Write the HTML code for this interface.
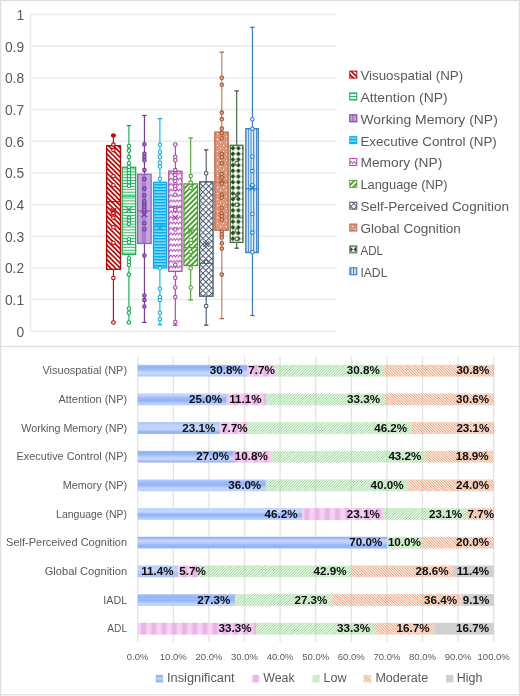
<!DOCTYPE html><html><head><meta charset="utf-8"><style>html,body{margin:0;padding:0;background:#fff;}svg{display:block;}text{font-family:'Liberation Sans', Arial, sans-serif;}</style></head><body>
<svg width="520" height="696" viewBox="0 0 520 696">
<defs>
<pattern id="pRed" patternUnits="userSpaceOnUse" width="3.4" height="3.4" patternTransform="rotate(-45)"><rect width="3.4" height="3.4" fill="#fff"/><rect width="1.65" height="3.4" fill="#C00000"/></pattern>
<pattern id="pAtt" patternUnits="userSpaceOnUse" width="6" height="2.9" y="0.3"><rect width="6" height="2.9" fill="#fff"/><rect width="6" height="1.05" fill="#2DB862"/></pattern>
<pattern id="pExe" patternUnits="userSpaceOnUse" width="6" height="3" y="0.6"><rect width="6" height="3" fill="#fff"/><rect width="6" height="2.2" fill="#00B0F0"/></pattern>
<pattern id="pMem" patternUnits="userSpaceOnUse" width="3" height="5.5" y="1"><rect width="3" height="5.5" fill="#fff"/><polyline points="0,0.8 1.5,3.0 3,0.8" fill="none" stroke="#B346B0" stroke-width="0.95"/></pattern>
<pattern id="pLang" patternUnits="userSpaceOnUse" width="3.7" height="3.7" patternTransform="rotate(45)"><rect width="3.7" height="3.7" fill="#fff"/><rect width="1.8" height="3.7" fill="#3E9E26"/></pattern>
<pattern id="pSelf" patternUnits="userSpaceOnUse" width="4.1" height="4.1" patternTransform="rotate(45)"><rect width="4.1" height="4.1" fill="#fff"/><rect width="0.95" height="4.1" fill="#4A5A70"/><rect width="4.1" height="0.95" fill="#4A5A70"/></pattern>
<pattern id="pGlob" patternUnits="userSpaceOnUse" width="6" height="6" x="0" y="0"><rect width="6" height="6" fill="#DD9678"/><rect x="1" y="1" width="1" height="1" fill="#fff"/><rect x="4" y="4" width="1" height="1" fill="#fff"/></pattern>
<pattern id="pADL" patternUnits="userSpaceOnUse" width="5.5" height="5.65" x="230.15" y="145.4"><rect width="5.5" height="5.65" fill="#fff"/><polygon points="2.75,0.35 5.2,2.82 2.75,5.3 0.3,2.82" fill="#1E5016"/></pattern>
<pattern id="pIADL" patternUnits="userSpaceOnUse" width="2.7" height="4" x="245.1"><rect width="2.7" height="4" fill="#F2F7FD"/><rect width="1.1" height="4" fill="#2C7AD6"/></pattern>
<pattern id="pLow" patternUnits="userSpaceOnUse" width="1.9" height="1.9" patternTransform="rotate(45)"><rect width="0.85" height="1.9" fill="#8ED68A"/></pattern>
<pattern id="pMod" patternUnits="userSpaceOnUse" width="1.9" height="1.9" patternTransform="rotate(-45)"><rect width="0.9" height="1.9" fill="#F09A70"/></pattern>
<linearGradient id="gWk" x1="0" x2="1" y1="0" y2="0"><stop offset="0" stop-color="#F3D0F0"/><stop offset="0.2" stop-color="#EAB2E5"/><stop offset="0.45" stop-color="#EAB2E5"/><stop offset="0.7" stop-color="#F4D4F1"/><stop offset="1" stop-color="#F3D0F0"/></linearGradient>
<pattern id="pWeak" patternUnits="userSpaceOnUse" width="10.2" height="4" x="303.5"><rect width="10.2" height="4" fill="url(#gWk)"/></pattern>
<linearGradient id="gPur" x1="0" x2="1" y1="0" y2="0"><stop offset="0" stop-color="#C7A6E0"/><stop offset="0.28" stop-color="#C2A0DD"/><stop offset="0.3" stop-color="#A880CC"/><stop offset="0.62" stop-color="#A880CC"/><stop offset="0.64" stop-color="#C4A3DF"/><stop offset="1" stop-color="#C7A6E0"/></linearGradient>
<linearGradient id="gI0" x1="0" x2="0" y1="0" y2="1"><stop offset="0" stop-color="#A4C0FA"/><stop offset="0.2" stop-color="#8FB2F9"/><stop offset="0.4" stop-color="#9DBBFA"/><stop offset="0.6" stop-color="#C3D5FC"/><stop offset="0.75" stop-color="#C6D7FC"/><stop offset="0.9" stop-color="#B3CAFA"/><stop offset="1" stop-color="#BCD0FB"/></linearGradient>
<linearGradient id="gI1" x1="0" x2="0" y1="0" y2="1"><stop offset="0" stop-color="#B9CEFB"/><stop offset="0.15" stop-color="#C3D5FC"/><stop offset="0.35" stop-color="#9EBCFA"/><stop offset="0.6" stop-color="#8FB2F9"/><stop offset="0.8" stop-color="#B5CBFB"/><stop offset="1" stop-color="#BFD2FB"/></linearGradient>
<linearGradient id="gI2" x1="0" x2="0" y1="0" y2="1"><stop offset="0" stop-color="#A8C3FA"/><stop offset="0.15" stop-color="#B0C8FA"/><stop offset="0.3" stop-color="#C3D5FC"/><stop offset="0.5" stop-color="#C0D3FB"/><stop offset="0.6" stop-color="#C5D6FC"/><stop offset="0.8" stop-color="#96B6F9"/><stop offset="0.95" stop-color="#8DB0F8"/><stop offset="1" stop-color="#A8C3FA"/></linearGradient>
<linearGradient id="gI3" x1="0" x2="0" y1="0" y2="1"><stop offset="0" stop-color="#9DBBFA"/><stop offset="0.15" stop-color="#8FB2F9"/><stop offset="0.3" stop-color="#96B6F9"/><stop offset="0.45" stop-color="#B5CBFB"/><stop offset="0.65" stop-color="#C8D8FC"/><stop offset="0.8" stop-color="#B9CEFB"/><stop offset="0.93" stop-color="#8FB2F9"/><stop offset="1" stop-color="#A8C3FA"/></linearGradient>
<linearGradient id="gI4" x1="0" x2="0" y1="0" y2="1"><stop offset="0" stop-color="#BCD0FB"/><stop offset="0.2" stop-color="#9EBCFA"/><stop offset="0.45" stop-color="#8FB2F9"/><stop offset="0.55" stop-color="#A2BFFA"/><stop offset="0.75" stop-color="#C6D7FC"/><stop offset="0.9" stop-color="#BBCFFB"/><stop offset="1" stop-color="#C0D3FB"/></linearGradient>
<linearGradient id="gI5" x1="0" x2="0" y1="0" y2="1"><stop offset="0" stop-color="#BCD0FB"/><stop offset="0.3" stop-color="#C8D8FC"/><stop offset="0.55" stop-color="#8FB2F9"/><stop offset="0.7" stop-color="#9CBAFA"/><stop offset="0.9" stop-color="#BACFFB"/><stop offset="1" stop-color="#BCD0FB"/></linearGradient>
<linearGradient id="gI6" x1="0" x2="0" y1="0" y2="1"><stop offset="0" stop-color="#8FB2F9"/><stop offset="0.1" stop-color="#8FB2F9"/><stop offset="0.2" stop-color="#B0C8FA"/><stop offset="0.35" stop-color="#C8D8FC"/><stop offset="0.55" stop-color="#B2C9FA"/><stop offset="0.7" stop-color="#98B8F9"/><stop offset="0.85" stop-color="#8FB2F9"/><stop offset="1" stop-color="#A5C1FA"/></linearGradient>
<linearGradient id="gI7" x1="0" x2="0" y1="0" y2="1"><stop offset="0" stop-color="#B5CCFB"/><stop offset="0.4" stop-color="#C6D7FC"/><stop offset="0.7" stop-color="#A9C4FA"/><stop offset="1" stop-color="#B0C8FA"/></linearGradient>
<linearGradient id="gI8" x1="0" x2="0" y1="0" y2="1"><stop offset="0" stop-color="#B3CAFA"/><stop offset="0.25" stop-color="#8FB2F9"/><stop offset="0.4" stop-color="#A2BEFA"/><stop offset="0.55" stop-color="#95B6F9"/><stop offset="0.85" stop-color="#C5D6FC"/><stop offset="1" stop-color="#B4CBFA"/></linearGradient>
<linearGradient id="gI9" x1="0" x2="0" y1="0" y2="1"><stop offset="0" stop-color="#8FB2F9"/><stop offset="0.3" stop-color="#A0BDFA"/><stop offset="0.5" stop-color="#C5D6FC"/><stop offset="0.7" stop-color="#A0BDFA"/><stop offset="1" stop-color="#8FB2F9"/></linearGradient>
</defs>
<rect width="520" height="696" fill="#fff"/>
<line x1="30.5" y1="331.25" x2="336.7" y2="331.25" stroke="#EAEAEA" stroke-width="1.5"/>
<line x1="30.5" y1="299.57" x2="336.7" y2="299.57" stroke="#EAEAEA" stroke-width="1.5"/>
<line x1="30.5" y1="267.90" x2="336.7" y2="267.90" stroke="#EAEAEA" stroke-width="1.5"/>
<line x1="30.5" y1="236.23" x2="336.7" y2="236.23" stroke="#EAEAEA" stroke-width="1.5"/>
<line x1="30.5" y1="204.55" x2="336.7" y2="204.55" stroke="#EAEAEA" stroke-width="1.5"/>
<line x1="30.5" y1="172.88" x2="336.7" y2="172.88" stroke="#EAEAEA" stroke-width="1.5"/>
<line x1="30.5" y1="141.20" x2="336.7" y2="141.20" stroke="#EAEAEA" stroke-width="1.5"/>
<line x1="30.5" y1="109.53" x2="336.7" y2="109.53" stroke="#EAEAEA" stroke-width="1.5"/>
<line x1="30.5" y1="77.85" x2="336.7" y2="77.85" stroke="#EAEAEA" stroke-width="1.5"/>
<line x1="30.5" y1="46.18" x2="336.7" y2="46.18" stroke="#EAEAEA" stroke-width="1.5"/>
<line x1="30.5" y1="14.50" x2="336.7" y2="14.50" stroke="#EAEAEA" stroke-width="1.5"/>
<line x1="30.6" y1="14.3" x2="30.6" y2="331.3" stroke="#EAEAEA" stroke-width="1.3"/>
<text x="24.1" y="336.65" font-size="13.8" fill="#595959" text-anchor="end">0</text>
<text x="24.1" y="304.97" font-size="13.8" fill="#595959" text-anchor="end">0.1</text>
<text x="24.1" y="273.30" font-size="13.8" fill="#595959" text-anchor="end">0.2</text>
<text x="24.1" y="241.63" font-size="13.8" fill="#595959" text-anchor="end">0.3</text>
<text x="24.1" y="209.95" font-size="13.8" fill="#595959" text-anchor="end">0.4</text>
<text x="24.1" y="178.28" font-size="13.8" fill="#595959" text-anchor="end">0.5</text>
<text x="24.1" y="146.60" font-size="13.8" fill="#595959" text-anchor="end">0.6</text>
<text x="24.1" y="114.93" font-size="13.8" fill="#595959" text-anchor="end">0.7</text>
<text x="24.1" y="83.25" font-size="13.8" fill="#595959" text-anchor="end">0.8</text>
<text x="24.1" y="51.58" font-size="13.8" fill="#595959" text-anchor="end">0.9</text>
<text x="24.1" y="19.90" font-size="13.8" fill="#595959" text-anchor="end">1</text>
<line x1="113.40" y1="135.30" x2="113.40" y2="145.70" stroke="#C00000" stroke-width="1.1"/>
<line x1="113.40" y1="269.30" x2="113.40" y2="322.40" stroke="#C00000" stroke-width="1.1"/>
<line x1="111.20" y1="135.30" x2="115.60" y2="135.30" stroke="#C00000" stroke-width="1.3"/>
<line x1="111.20" y1="322.40" x2="115.60" y2="322.40" stroke="#C00000" stroke-width="1.3"/>
<rect x="106.65" y="145.70" width="13.80" height="123.60" fill="url(#pRed)" stroke="#C00000" stroke-width="1.30"/>
<line x1="106.60" y1="201.70" x2="120.50" y2="201.70" stroke="#C00000" stroke-width="1.1"/>
<circle cx="113.40" cy="135.50" r="1.75" fill="#fff" stroke="#C00000" stroke-width="1.05"/>
<circle cx="113.40" cy="144.60" r="1.75" fill="#fff" stroke="#C00000" stroke-width="1.05"/>
<circle cx="113.40" cy="150.10" r="1.75" fill="#fff" stroke="#C00000" stroke-width="1.05"/>
<circle cx="113.40" cy="176.20" r="1.75" fill="#fff" stroke="#C00000" stroke-width="1.05"/>
<circle cx="113.40" cy="185.30" r="1.75" fill="#fff" stroke="#C00000" stroke-width="1.05"/>
<circle cx="113.40" cy="213.10" r="1.75" fill="#fff" stroke="#C00000" stroke-width="1.05"/>
<circle cx="113.40" cy="217.60" r="1.75" fill="#fff" stroke="#C00000" stroke-width="1.05"/>
<circle cx="113.40" cy="227.20" r="1.75" fill="#fff" stroke="#C00000" stroke-width="1.05"/>
<circle cx="113.40" cy="242.70" r="1.75" fill="#fff" stroke="#C00000" stroke-width="1.05"/>
<circle cx="113.40" cy="278.00" r="1.75" fill="#fff" stroke="#C00000" stroke-width="1.05"/>
<circle cx="113.40" cy="322.40" r="1.75" fill="#fff" stroke="#C00000" stroke-width="1.05"/>
<ellipse cx="113.40" cy="135.50" rx="2.4" ry="1.6" fill="#C00000"/>
<path d="M110.60 208.00L116.20 213.60M110.60 213.60L116.20 208.00" stroke="#C00000" stroke-width="1.1" fill="none"/>
<line x1="128.90" y1="125.60" x2="128.90" y2="167.30" stroke="#00B050" stroke-width="1.1"/>
<line x1="128.90" y1="254.50" x2="128.90" y2="322.40" stroke="#00B050" stroke-width="1.1"/>
<line x1="126.70" y1="125.60" x2="131.10" y2="125.60" stroke="#00B050" stroke-width="1.3"/>
<line x1="126.70" y1="322.40" x2="131.10" y2="322.40" stroke="#00B050" stroke-width="1.3"/>
<rect x="122.25" y="167.30" width="13.40" height="87.20" fill="url(#pAtt)" stroke="#1DB258" stroke-width="1.30"/>
<line x1="122.20" y1="196.20" x2="135.70" y2="196.20" stroke="#1DB258" stroke-width="1.1"/>
<circle cx="128.90" cy="145.90" r="1.75" fill="#fff" stroke="#00B050" stroke-width="1.05"/>
<circle cx="128.90" cy="150.60" r="1.75" fill="#fff" stroke="#00B050" stroke-width="1.05"/>
<circle cx="128.90" cy="157.10" r="1.75" fill="#fff" stroke="#00B050" stroke-width="1.05"/>
<circle cx="128.90" cy="163.20" r="1.75" fill="#fff" stroke="#00B050" stroke-width="1.05"/>
<circle cx="128.90" cy="167.00" r="1.75" fill="#fff" stroke="#00B050" stroke-width="1.05"/>
<circle cx="128.90" cy="170.20" r="1.75" fill="#fff" stroke="#00B050" stroke-width="1.05"/>
<circle cx="128.90" cy="173.20" r="1.75" fill="#fff" stroke="#00B050" stroke-width="1.05"/>
<circle cx="128.90" cy="176.20" r="1.75" fill="#fff" stroke="#00B050" stroke-width="1.05"/>
<circle cx="128.90" cy="179.30" r="1.75" fill="#fff" stroke="#00B050" stroke-width="1.05"/>
<circle cx="128.90" cy="182.30" r="1.75" fill="#fff" stroke="#00B050" stroke-width="1.05"/>
<circle cx="128.90" cy="185.80" r="1.75" fill="#fff" stroke="#00B050" stroke-width="1.05"/>
<circle cx="128.90" cy="217.60" r="1.75" fill="#fff" stroke="#00B050" stroke-width="1.05"/>
<circle cx="128.90" cy="220.60" r="1.75" fill="#fff" stroke="#00B050" stroke-width="1.05"/>
<circle cx="128.90" cy="224.10" r="1.75" fill="#fff" stroke="#00B050" stroke-width="1.05"/>
<circle cx="128.90" cy="239.20" r="1.75" fill="#fff" stroke="#00B050" stroke-width="1.05"/>
<circle cx="128.90" cy="242.20" r="1.75" fill="#fff" stroke="#00B050" stroke-width="1.05"/>
<circle cx="128.90" cy="258.40" r="1.75" fill="#fff" stroke="#00B050" stroke-width="1.05"/>
<circle cx="128.90" cy="261.80" r="1.75" fill="#fff" stroke="#00B050" stroke-width="1.05"/>
<circle cx="128.90" cy="264.90" r="1.75" fill="#fff" stroke="#00B050" stroke-width="1.05"/>
<circle cx="128.90" cy="274.60" r="1.75" fill="#fff" stroke="#00B050" stroke-width="1.05"/>
<circle cx="128.90" cy="308.50" r="1.75" fill="#fff" stroke="#00B050" stroke-width="1.05"/>
<circle cx="128.90" cy="312.80" r="1.75" fill="#fff" stroke="#00B050" stroke-width="1.05"/>
<circle cx="128.90" cy="322.40" r="1.75" fill="#fff" stroke="#00B050" stroke-width="1.05"/>
<path d="M126.10 206.80L131.70 212.40M126.10 212.40L131.70 206.80" stroke="#00B050" stroke-width="1.1" fill="none"/>
<line x1="144.40" y1="115.50" x2="144.40" y2="174.30" stroke="#7030A0" stroke-width="1.1"/>
<line x1="144.40" y1="243.50" x2="144.40" y2="322.40" stroke="#7030A0" stroke-width="1.1"/>
<line x1="142.20" y1="115.50" x2="146.60" y2="115.50" stroke="#7030A0" stroke-width="1.3"/>
<line x1="142.20" y1="322.40" x2="146.60" y2="322.40" stroke="#7030A0" stroke-width="1.3"/>
<rect x="137.65" y="174.30" width="13.50" height="69.20" fill="url(#gPur)" stroke="#9366BE" stroke-width="1.30"/>
<line x1="137.60" y1="210.80" x2="151.20" y2="210.80" stroke="#9366BE" stroke-width="1.1"/>
<circle cx="144.40" cy="144.20" r="1.75" fill="#A47CC8" stroke="#7030A0" stroke-width="1.05"/>
<circle cx="144.40" cy="153.80" r="1.75" fill="#A47CC8" stroke="#7030A0" stroke-width="1.05"/>
<circle cx="144.40" cy="157.30" r="1.75" fill="#A47CC8" stroke="#7030A0" stroke-width="1.05"/>
<circle cx="144.40" cy="160.30" r="1.75" fill="#A47CC8" stroke="#7030A0" stroke-width="1.05"/>
<circle cx="144.40" cy="169.90" r="1.75" fill="#A47CC8" stroke="#7030A0" stroke-width="1.05"/>
<circle cx="144.40" cy="179.00" r="1.75" fill="#A47CC8" stroke="#7030A0" stroke-width="1.05"/>
<circle cx="144.40" cy="188.60" r="1.75" fill="#A47CC8" stroke="#7030A0" stroke-width="1.05"/>
<circle cx="144.40" cy="195.60" r="1.75" fill="#A47CC8" stroke="#7030A0" stroke-width="1.05"/>
<circle cx="144.40" cy="201.20" r="1.75" fill="#A47CC8" stroke="#7030A0" stroke-width="1.05"/>
<circle cx="144.40" cy="204.20" r="1.75" fill="#A47CC8" stroke="#7030A0" stroke-width="1.05"/>
<circle cx="144.40" cy="206.70" r="1.75" fill="#A47CC8" stroke="#7030A0" stroke-width="1.05"/>
<circle cx="144.40" cy="209.70" r="1.75" fill="#A47CC8" stroke="#7030A0" stroke-width="1.05"/>
<circle cx="144.40" cy="223.30" r="1.75" fill="#A47CC8" stroke="#7030A0" stroke-width="1.05"/>
<circle cx="144.40" cy="229.30" r="1.75" fill="#A47CC8" stroke="#7030A0" stroke-width="1.05"/>
<circle cx="144.40" cy="255.40" r="1.75" fill="#A47CC8" stroke="#7030A0" stroke-width="1.05"/>
<circle cx="144.40" cy="295.40" r="1.75" fill="#A47CC8" stroke="#7030A0" stroke-width="1.05"/>
<circle cx="144.40" cy="300.10" r="1.75" fill="#A47CC8" stroke="#7030A0" stroke-width="1.05"/>
<circle cx="144.40" cy="306.50" r="1.75" fill="#A47CC8" stroke="#7030A0" stroke-width="1.05"/>
<path d="M141.60 211.50L147.20 217.10M141.60 217.10L147.20 211.50" stroke="#7030A0" stroke-width="1.1" fill="none"/>
<line x1="159.90" y1="118.60" x2="159.90" y2="182.30" stroke="#00B0F0" stroke-width="1.1"/>
<line x1="159.90" y1="268.00" x2="159.90" y2="324.70" stroke="#00B0F0" stroke-width="1.1"/>
<line x1="157.70" y1="118.60" x2="162.10" y2="118.60" stroke="#00B0F0" stroke-width="1.3"/>
<line x1="157.70" y1="324.70" x2="162.10" y2="324.70" stroke="#00B0F0" stroke-width="1.3"/>
<rect x="153.55" y="182.30" width="13.10" height="85.70" fill="url(#pExe)" stroke="#00B0F0" stroke-width="1.30"/>
<line x1="153.50" y1="225.00" x2="166.70" y2="225.00" stroke="#00B0F0" stroke-width="1.1"/>
<circle cx="159.90" cy="144.70" r="1.75" fill="#fff" stroke="#00B0F0" stroke-width="1.05"/>
<circle cx="159.90" cy="152.30" r="1.75" fill="#fff" stroke="#00B0F0" stroke-width="1.05"/>
<circle cx="159.90" cy="156.80" r="1.75" fill="#fff" stroke="#00B0F0" stroke-width="1.05"/>
<circle cx="159.90" cy="162.80" r="1.75" fill="#fff" stroke="#00B0F0" stroke-width="1.05"/>
<circle cx="159.90" cy="166.40" r="1.75" fill="#fff" stroke="#00B0F0" stroke-width="1.05"/>
<circle cx="159.90" cy="179.00" r="1.75" fill="#fff" stroke="#00B0F0" stroke-width="1.05"/>
<circle cx="159.90" cy="268.30" r="1.75" fill="#fff" stroke="#00B0F0" stroke-width="1.05"/>
<circle cx="159.90" cy="288.80" r="1.75" fill="#fff" stroke="#00B0F0" stroke-width="1.05"/>
<circle cx="159.90" cy="297.00" r="1.75" fill="#fff" stroke="#00B0F0" stroke-width="1.05"/>
<circle cx="159.90" cy="300.10" r="1.75" fill="#fff" stroke="#00B0F0" stroke-width="1.05"/>
<circle cx="159.90" cy="312.80" r="1.75" fill="#fff" stroke="#00B0F0" stroke-width="1.05"/>
<circle cx="159.90" cy="319.20" r="1.75" fill="#fff" stroke="#00B0F0" stroke-width="1.05"/>
<path d="M157.10 225.20L162.70 230.80M157.10 230.80L162.70 225.20" stroke="#00B0F0" stroke-width="1.1" fill="none"/>
<line x1="175.30" y1="144.40" x2="175.30" y2="171.20" stroke="#A93BA8" stroke-width="1.1"/>
<line x1="175.30" y1="271.30" x2="175.30" y2="325.20" stroke="#A93BA8" stroke-width="1.1"/>
<line x1="173.10" y1="144.40" x2="177.50" y2="144.40" stroke="#A93BA8" stroke-width="1.3"/>
<line x1="173.10" y1="325.20" x2="177.50" y2="325.20" stroke="#A93BA8" stroke-width="1.3"/>
<rect x="168.75" y="171.20" width="13.20" height="100.10" fill="url(#pMem)" stroke="#B04BAE" stroke-width="1.30"/>
<line x1="168.70" y1="207.30" x2="182.00" y2="207.30" stroke="#B04BAE" stroke-width="1.1"/>
<circle cx="175.30" cy="144.40" r="1.75" fill="#fff" stroke="#A93BA8" stroke-width="1.05"/>
<circle cx="175.30" cy="156.80" r="1.75" fill="#fff" stroke="#A93BA8" stroke-width="1.05"/>
<circle cx="175.30" cy="160.30" r="1.75" fill="#fff" stroke="#A93BA8" stroke-width="1.05"/>
<circle cx="175.30" cy="170.10" r="1.75" fill="#fff" stroke="#A93BA8" stroke-width="1.05"/>
<circle cx="175.30" cy="175.00" r="1.75" fill="#fff" stroke="#A93BA8" stroke-width="1.05"/>
<circle cx="175.30" cy="178.00" r="1.75" fill="#fff" stroke="#A93BA8" stroke-width="1.05"/>
<circle cx="175.30" cy="181.00" r="1.75" fill="#fff" stroke="#A93BA8" stroke-width="1.05"/>
<circle cx="175.30" cy="186.00" r="1.75" fill="#fff" stroke="#A93BA8" stroke-width="1.05"/>
<circle cx="175.30" cy="189.00" r="1.75" fill="#fff" stroke="#A93BA8" stroke-width="1.05"/>
<circle cx="175.30" cy="194.70" r="1.75" fill="#fff" stroke="#A93BA8" stroke-width="1.05"/>
<circle cx="175.30" cy="208.30" r="1.75" fill="#fff" stroke="#A93BA8" stroke-width="1.05"/>
<circle cx="175.30" cy="209.80" r="1.75" fill="#fff" stroke="#A93BA8" stroke-width="1.05"/>
<circle cx="175.30" cy="229.40" r="1.75" fill="#fff" stroke="#A93BA8" stroke-width="1.05"/>
<circle cx="175.30" cy="264.80" r="1.75" fill="#fff" stroke="#A93BA8" stroke-width="1.05"/>
<circle cx="175.30" cy="277.80" r="1.75" fill="#fff" stroke="#A93BA8" stroke-width="1.05"/>
<circle cx="175.30" cy="287.50" r="1.75" fill="#fff" stroke="#A93BA8" stroke-width="1.05"/>
<circle cx="175.30" cy="297.00" r="1.75" fill="#fff" stroke="#A93BA8" stroke-width="1.05"/>
<circle cx="175.30" cy="322.00" r="1.75" fill="#fff" stroke="#A93BA8" stroke-width="1.05"/>
<path d="M172.50 214.70L178.10 220.30M172.50 220.30L178.10 214.70" stroke="#A93BA8" stroke-width="1.1" fill="none"/>
<line x1="190.70" y1="138.00" x2="190.70" y2="183.90" stroke="#4EA72E" stroke-width="1.1"/>
<line x1="190.70" y1="265.60" x2="190.70" y2="300.00" stroke="#4EA72E" stroke-width="1.1"/>
<line x1="188.50" y1="138.00" x2="192.90" y2="138.00" stroke="#4EA72E" stroke-width="1.3"/>
<line x1="188.50" y1="300.00" x2="192.90" y2="300.00" stroke="#4EA72E" stroke-width="1.3"/>
<rect x="183.95" y="183.90" width="13.60" height="81.70" fill="url(#pLang)" stroke="#4EA72E" stroke-width="1.30"/>
<line x1="183.90" y1="247.60" x2="197.60" y2="247.60" stroke="#4EA72E" stroke-width="1.1"/>
<circle cx="190.70" cy="176.10" r="1.75" fill="#fff" stroke="#4EA72E" stroke-width="1.05"/>
<circle cx="190.70" cy="182.60" r="1.75" fill="#fff" stroke="#4EA72E" stroke-width="1.05"/>
<circle cx="190.70" cy="188.10" r="1.75" fill="#fff" stroke="#4EA72E" stroke-width="1.05"/>
<circle cx="190.70" cy="240.00" r="1.75" fill="#fff" stroke="#4EA72E" stroke-width="1.05"/>
<circle cx="190.70" cy="243.00" r="1.75" fill="#fff" stroke="#4EA72E" stroke-width="1.05"/>
<circle cx="190.70" cy="251.70" r="1.75" fill="#fff" stroke="#4EA72E" stroke-width="1.05"/>
<circle cx="190.70" cy="258.20" r="1.75" fill="#fff" stroke="#4EA72E" stroke-width="1.05"/>
<circle cx="190.70" cy="268.30" r="1.75" fill="#fff" stroke="#4EA72E" stroke-width="1.05"/>
<circle cx="190.70" cy="287.40" r="1.75" fill="#fff" stroke="#4EA72E" stroke-width="1.05"/>
<path d="M187.90 228.50L193.50 234.10M187.90 234.10L193.50 228.50" stroke="#4EA72E" stroke-width="1.1" fill="none"/>
<line x1="206.20" y1="149.90" x2="206.20" y2="181.80" stroke="#44546A" stroke-width="1.1"/>
<line x1="206.20" y1="296.20" x2="206.20" y2="325.20" stroke="#44546A" stroke-width="1.1"/>
<line x1="204.00" y1="149.90" x2="208.40" y2="149.90" stroke="#44546A" stroke-width="1.3"/>
<line x1="204.00" y1="325.20" x2="208.40" y2="325.20" stroke="#44546A" stroke-width="1.3"/>
<rect x="199.65" y="181.80" width="13.40" height="114.40" fill="url(#pSelf)" stroke="#4A5A70" stroke-width="1.30"/>
<line x1="199.60" y1="263.20" x2="213.10" y2="263.20" stroke="#4A5A70" stroke-width="1.1"/>
<circle cx="206.20" cy="173.20" r="1.75" fill="#fff" stroke="#44546A" stroke-width="1.05"/>
<circle cx="206.20" cy="262.00" r="1.75" fill="#fff" stroke="#44546A" stroke-width="1.05"/>
<circle cx="206.20" cy="306.00" r="1.75" fill="#fff" stroke="#44546A" stroke-width="1.05"/>
<path d="M203.40 241.30L209.00 246.90M203.40 246.90L209.00 241.30" stroke="#44546A" stroke-width="1.1" fill="none"/>
<line x1="221.80" y1="52.20" x2="221.80" y2="132.10" stroke="#B8795C" stroke-width="1.1"/>
<line x1="221.80" y1="230.20" x2="221.80" y2="318.60" stroke="#B8795C" stroke-width="1.1"/>
<line x1="219.60" y1="52.20" x2="224.00" y2="52.20" stroke="#B5613E" stroke-width="1.3"/>
<line x1="219.60" y1="318.60" x2="224.00" y2="318.60" stroke="#B5613E" stroke-width="1.3"/>
<rect x="214.85" y="132.10" width="13.30" height="98.10" fill="url(#pGlob)" stroke="#C0694A" stroke-width="1.30"/>
<line x1="214.80" y1="182.10" x2="228.20" y2="182.10" stroke="#C0694A" stroke-width="1.1"/>
<circle cx="221.80" cy="77.70" r="1.75" fill="#E6AC8E" stroke="#A8552F" stroke-width="1.05"/>
<circle cx="221.80" cy="84.70" r="1.75" fill="#E6AC8E" stroke="#A8552F" stroke-width="1.05"/>
<circle cx="221.80" cy="112.60" r="1.75" fill="#E6AC8E" stroke="#A8552F" stroke-width="1.05"/>
<circle cx="221.80" cy="119.10" r="1.75" fill="#E6AC8E" stroke="#A8552F" stroke-width="1.05"/>
<circle cx="221.80" cy="128.60" r="1.75" fill="#E6AC8E" stroke="#A8552F" stroke-width="1.05"/>
<circle cx="221.80" cy="133.10" r="1.75" fill="#E6AC8E" stroke="#A8552F" stroke-width="1.05"/>
<circle cx="221.80" cy="138.20" r="1.75" fill="#E6AC8E" stroke="#A8552F" stroke-width="1.05"/>
<circle cx="221.80" cy="153.80" r="1.75" fill="#E6AC8E" stroke="#A8552F" stroke-width="1.05"/>
<circle cx="221.80" cy="157.30" r="1.75" fill="#E6AC8E" stroke="#A8552F" stroke-width="1.05"/>
<circle cx="221.80" cy="163.30" r="1.75" fill="#E6AC8E" stroke="#A8552F" stroke-width="1.05"/>
<circle cx="221.80" cy="173.90" r="1.75" fill="#E6AC8E" stroke="#A8552F" stroke-width="1.05"/>
<circle cx="221.80" cy="177.50" r="1.75" fill="#E6AC8E" stroke="#A8552F" stroke-width="1.05"/>
<circle cx="221.80" cy="183.60" r="1.75" fill="#E6AC8E" stroke="#A8552F" stroke-width="1.05"/>
<circle cx="221.80" cy="194.60" r="1.75" fill="#E6AC8E" stroke="#A8552F" stroke-width="1.05"/>
<circle cx="221.80" cy="197.70" r="1.75" fill="#E6AC8E" stroke="#A8552F" stroke-width="1.05"/>
<circle cx="221.80" cy="207.70" r="1.75" fill="#E6AC8E" stroke="#A8552F" stroke-width="1.05"/>
<circle cx="221.80" cy="213.30" r="1.75" fill="#E6AC8E" stroke="#A8552F" stroke-width="1.05"/>
<circle cx="221.80" cy="216.30" r="1.75" fill="#E6AC8E" stroke="#A8552F" stroke-width="1.05"/>
<circle cx="221.80" cy="219.80" r="1.75" fill="#E6AC8E" stroke="#A8552F" stroke-width="1.05"/>
<circle cx="221.80" cy="231.40" r="1.75" fill="#E6AC8E" stroke="#A8552F" stroke-width="1.05"/>
<circle cx="221.80" cy="234.40" r="1.75" fill="#E6AC8E" stroke="#A8552F" stroke-width="1.05"/>
<circle cx="221.80" cy="237.40" r="1.75" fill="#E6AC8E" stroke="#A8552F" stroke-width="1.05"/>
<circle cx="221.80" cy="243.20" r="1.75" fill="#E6AC8E" stroke="#A8552F" stroke-width="1.05"/>
<circle cx="221.80" cy="248.60" r="1.75" fill="#E6AC8E" stroke="#A8552F" stroke-width="1.05"/>
<circle cx="221.80" cy="274.60" r="1.75" fill="#E6AC8E" stroke="#A8552F" stroke-width="1.05"/>
<path d="M219.00 177.20L224.60 182.80M219.00 182.80L224.60 177.20" stroke="#B5613E" stroke-width="1.1" fill="none"/>
<line x1="236.70" y1="90.90" x2="236.70" y2="145.30" stroke="#3F5F37" stroke-width="1.1"/>
<line x1="236.70" y1="242.40" x2="236.70" y2="248.20" stroke="#3F5F37" stroke-width="1.1"/>
<line x1="234.50" y1="90.90" x2="238.90" y2="90.90" stroke="#3F5F37" stroke-width="1.3"/>
<line x1="234.50" y1="248.20" x2="238.90" y2="248.20" stroke="#3F5F37" stroke-width="1.3"/>
<rect x="230.25" y="145.30" width="12.70" height="97.10" fill="url(#pADL)" stroke="#4B6B42" stroke-width="1.30"/>
<line x1="230.20" y1="217.80" x2="243.00" y2="217.80" stroke="#4B6B42" stroke-width="1.1"/>
<circle cx="236.70" cy="163.30" r="1.75" fill="#fff" stroke="#3F5F37" stroke-width="1.05"/>
<circle cx="236.70" cy="204.70" r="1.75" fill="#fff" stroke="#3F5F37" stroke-width="1.05"/>
<circle cx="236.70" cy="230.40" r="1.75" fill="#fff" stroke="#3F5F37" stroke-width="1.05"/>
<circle cx="236.70" cy="238.70" r="1.75" fill="#fff" stroke="#3F5F37" stroke-width="1.05"/>
<path d="M233.90 192.90L239.50 198.50M233.90 198.50L239.50 192.90" stroke="#3F5F37" stroke-width="1.1" fill="none"/>
<line x1="252.40" y1="27.40" x2="252.40" y2="128.70" stroke="#2C7AD6" stroke-width="1.1"/>
<line x1="252.40" y1="252.50" x2="252.40" y2="315.50" stroke="#2C7AD6" stroke-width="1.1"/>
<line x1="250.20" y1="27.40" x2="254.60" y2="27.40" stroke="#2C7AD6" stroke-width="1.3"/>
<line x1="250.20" y1="315.50" x2="254.60" y2="315.50" stroke="#2C7AD6" stroke-width="1.3"/>
<rect x="245.85" y="128.70" width="12.40" height="123.80" fill="url(#pIADL)" stroke="#2C7AD6" stroke-width="1.30"/>
<line x1="245.80" y1="188.70" x2="258.30" y2="188.70" stroke="#2C7AD6" stroke-width="1.1"/>
<circle cx="252.40" cy="119.20" r="1.75" fill="#fff" stroke="#2C7AD6" stroke-width="1.05"/>
<circle cx="252.40" cy="128.80" r="1.75" fill="#fff" stroke="#2C7AD6" stroke-width="1.05"/>
<circle cx="252.40" cy="156.50" r="1.75" fill="#fff" stroke="#2C7AD6" stroke-width="1.05"/>
<circle cx="252.40" cy="171.10" r="1.75" fill="#fff" stroke="#2C7AD6" stroke-width="1.05"/>
<circle cx="252.40" cy="185.20" r="1.75" fill="#fff" stroke="#2C7AD6" stroke-width="1.05"/>
<circle cx="252.40" cy="213.90" r="1.75" fill="#fff" stroke="#2C7AD6" stroke-width="1.05"/>
<circle cx="252.40" cy="232.60" r="1.75" fill="#fff" stroke="#2C7AD6" stroke-width="1.05"/>
<circle cx="252.40" cy="252.30" r="1.75" fill="#fff" stroke="#2C7AD6" stroke-width="1.05"/>
<path d="M249.60 185.20L255.20 190.80M249.60 190.80L255.20 185.20" stroke="#2C7AD6" stroke-width="1.1" fill="none"/>
<rect x="349.8" y="71.10" width="7" height="7" fill="url(#pRed)" stroke="#C00000" stroke-width="1"/>
<text x="360.4" y="80.00" font-size="12.6" fill="#595959" textLength="102.8" lengthAdjust="spacingAndGlyphs">Visuospatial (NP)</text>
<rect x="349.8" y="92.95" width="7" height="7" fill="url(#pAtt)" stroke="#00B050" stroke-width="1"/>
<text x="360.4" y="101.85" font-size="12.6" fill="#595959" textLength="87.2" lengthAdjust="spacingAndGlyphs">Attention (NP)</text>
<rect x="349.8" y="114.80" width="7" height="7" fill="url(#gPur)" stroke="#7030A0" stroke-width="1"/>
<text x="360.4" y="123.70" font-size="12.6" fill="#595959" textLength="137.4" lengthAdjust="spacingAndGlyphs">Working Memory (NP)</text>
<rect x="349.8" y="136.65" width="7" height="7" fill="url(#pExe)" stroke="#00B0F0" stroke-width="1"/>
<text x="360.4" y="145.55" font-size="12.6" fill="#595959" textLength="136.4" lengthAdjust="spacingAndGlyphs">Executive Control (NP)</text>
<rect x="349.8" y="158.50" width="7" height="7" fill="url(#pMem)" stroke="#B04BAE" stroke-width="1"/>
<text x="360.4" y="167.40" font-size="12.6" fill="#595959" textLength="82.0" lengthAdjust="spacingAndGlyphs">Memory (NP)</text>
<rect x="349.8" y="180.35" width="7" height="7" fill="url(#pLang)" stroke="#4EA72E" stroke-width="1"/>
<text x="360.4" y="189.25" font-size="12.6" fill="#595959" textLength="87.2" lengthAdjust="spacingAndGlyphs">Language (NP)</text>
<rect x="349.8" y="202.20" width="7" height="7" fill="url(#pSelf)" stroke="#4A5A70" stroke-width="1"/>
<text x="360.4" y="211.10" font-size="12.6" fill="#595959" textLength="148.5" lengthAdjust="spacingAndGlyphs">Self-Perceived Cognition</text>
<rect x="349.8" y="224.05" width="7" height="7" fill="url(#pGlob)" stroke="#C0694A" stroke-width="1"/>
<text x="360.4" y="232.95" font-size="12.6" fill="#595959" textLength="100.4" lengthAdjust="spacingAndGlyphs">Global Cognition</text>
<rect x="349.8" y="245.90" width="7" height="7" fill="#fff" stroke="#4B6B42" stroke-width="1"/>
<path d="M350.3 246.50L353.1 249.40L350.3 252.30ZM356.3 246.50L353.5 249.40L356.3 252.30Z" fill="#1E5016"/>
<rect x="350.3" y="246.30" width="6" height="0.9" fill="#6E8A66"/><rect x="350.3" y="251.60" width="6" height="0.9" fill="#6E8A66"/>
<text x="360.4" y="254.80" font-size="12.6" fill="#595959" textLength="22.6" lengthAdjust="spacingAndGlyphs">ADL</text>
<rect x="349.8" y="267.75" width="7" height="7" fill="url(#pIADL)" stroke="#2C7AD6" stroke-width="1"/>
<text x="360.4" y="276.65" font-size="12.6" fill="#595959" textLength="27.0" lengthAdjust="spacingAndGlyphs">IADL</text>
<rect x="0" y="0" width="520" height="1.1" fill="#DEDEDE"/>
<rect x="0" y="0" width="1.2" height="696" fill="#DEDEDE"/>
<rect x="518.8" y="0" width="1.2" height="696" fill="#DEDEDE"/>
<rect x="0" y="694.2" width="520" height="1.2" fill="#DEDEDE"/>
<rect x="0" y="345.9" width="520" height="1.2" fill="#DEDEDE"/>
<line x1="137.70" y1="356" x2="137.70" y2="642" stroke="#E4E4E4" stroke-width="1.3"/>
<line x1="173.30" y1="356" x2="173.30" y2="642" stroke="#E4E4E4" stroke-width="1.3"/>
<line x1="208.90" y1="356" x2="208.90" y2="642" stroke="#E4E4E4" stroke-width="1.3"/>
<line x1="244.50" y1="356" x2="244.50" y2="642" stroke="#E4E4E4" stroke-width="1.3"/>
<line x1="280.10" y1="356" x2="280.10" y2="642" stroke="#E4E4E4" stroke-width="1.3"/>
<line x1="315.70" y1="356" x2="315.70" y2="642" stroke="#E4E4E4" stroke-width="1.3"/>
<line x1="351.30" y1="356" x2="351.30" y2="642" stroke="#E4E4E4" stroke-width="1.3"/>
<line x1="386.90" y1="356" x2="386.90" y2="642" stroke="#E4E4E4" stroke-width="1.3"/>
<line x1="422.50" y1="356" x2="422.50" y2="642" stroke="#E4E4E4" stroke-width="1.3"/>
<line x1="458.10" y1="356" x2="458.10" y2="642" stroke="#E4E4E4" stroke-width="1.3"/>
<line x1="493.70" y1="356" x2="493.70" y2="642" stroke="#E4E4E4" stroke-width="1.3"/>
<text x="127.1" y="374.35" font-size="11.6" fill="#595959" text-anchor="end" textLength="84.6" lengthAdjust="spacingAndGlyphs">Visuospatial (NP)</text>
<rect x="137.70" y="364.85" width="109.65" height="11.8" fill="url(#gI0)"/>
<rect x="247.35" y="364.85" width="27.41" height="11.8" fill="url(#pWeak)"/>
<rect x="274.76" y="364.85" width="109.65" height="11.8" fill="url(#pLow)"/>
<rect x="384.41" y="364.85" width="109.65" height="11.8" fill="url(#pMod)"/>
<text x="127.1" y="403.00" font-size="11.6" fill="#595959" text-anchor="end" textLength="68.6" lengthAdjust="spacingAndGlyphs">Attention (NP)</text>
<rect x="137.70" y="393.50" width="89.00" height="11.8" fill="url(#gI1)"/>
<rect x="226.70" y="393.50" width="39.52" height="11.8" fill="url(#pWeak)"/>
<rect x="266.22" y="393.50" width="118.55" height="11.8" fill="url(#pLow)"/>
<rect x="384.76" y="393.50" width="108.94" height="11.8" fill="url(#pMod)"/>
<text x="127.1" y="431.66" font-size="11.6" fill="#595959" text-anchor="end" textLength="105.8" lengthAdjust="spacingAndGlyphs">Working Memory (NP)</text>
<rect x="137.70" y="422.16" width="82.24" height="11.8" fill="url(#gI2)"/>
<rect x="219.94" y="422.16" width="27.41" height="11.8" fill="url(#pWeak)"/>
<rect x="247.35" y="422.16" width="164.47" height="11.8" fill="url(#pLow)"/>
<rect x="411.82" y="422.16" width="82.24" height="11.8" fill="url(#pMod)"/>
<text x="127.1" y="460.32" font-size="11.6" fill="#595959" text-anchor="end" textLength="110.6" lengthAdjust="spacingAndGlyphs">Executive Control (NP)</text>
<rect x="137.70" y="450.82" width="96.12" height="11.8" fill="url(#gI3)"/>
<rect x="233.82" y="450.82" width="38.45" height="11.8" fill="url(#pWeak)"/>
<rect x="272.27" y="450.82" width="153.79" height="11.8" fill="url(#pLow)"/>
<rect x="426.06" y="450.82" width="67.28" height="11.8" fill="url(#pMod)"/>
<text x="127.1" y="488.97" font-size="11.6" fill="#595959" text-anchor="end" textLength="64.4" lengthAdjust="spacingAndGlyphs">Memory (NP)</text>
<rect x="137.70" y="479.47" width="128.16" height="11.8" fill="url(#gI4)"/>
<rect x="265.86" y="479.47" width="142.40" height="11.8" fill="url(#pLow)"/>
<rect x="408.26" y="479.47" width="85.44" height="11.8" fill="url(#pMod)"/>
<text x="127.1" y="517.62" font-size="11.6" fill="#595959" text-anchor="end" textLength="71.0" lengthAdjust="spacingAndGlyphs">Language (NP)</text>
<rect x="137.70" y="508.12" width="164.47" height="11.8" fill="url(#gI5)"/>
<rect x="302.17" y="508.12" width="82.24" height="11.8" fill="url(#pWeak)"/>
<rect x="384.41" y="508.12" width="82.24" height="11.8" fill="url(#pLow)"/>
<rect x="466.64" y="508.12" width="27.41" height="11.8" fill="url(#pMod)"/>
<text x="127.1" y="546.28" font-size="11.6" fill="#595959" text-anchor="end" textLength="121.0" lengthAdjust="spacingAndGlyphs">Self-Perceived Cognition</text>
<rect x="137.70" y="536.78" width="249.20" height="11.8" fill="url(#gI6)"/>
<rect x="386.90" y="536.78" width="35.60" height="11.8" fill="url(#pLow)"/>
<rect x="422.50" y="536.78" width="71.20" height="11.8" fill="url(#pMod)"/>
<text x="127.1" y="574.94" font-size="11.6" fill="#595959" text-anchor="end" textLength="82.4" lengthAdjust="spacingAndGlyphs">Global Cognition</text>
<rect x="137.70" y="565.44" width="40.58" height="11.8" fill="url(#gI7)"/>
<rect x="178.28" y="565.44" width="20.29" height="11.8" fill="url(#pWeak)"/>
<rect x="198.58" y="565.44" width="152.72" height="11.8" fill="url(#pLow)"/>
<rect x="351.30" y="565.44" width="101.82" height="11.8" fill="url(#pMod)"/>
<rect x="453.12" y="565.44" width="40.58" height="11.8" fill="#D0D0D0"/>
<text x="127.1" y="603.59" font-size="11.6" fill="#595959" text-anchor="end" textLength="23.8" lengthAdjust="spacingAndGlyphs">IADL</text>
<rect x="137.70" y="594.09" width="97.19" height="11.8" fill="url(#gI8)"/>
<rect x="234.89" y="594.09" width="97.19" height="11.8" fill="url(#pLow)"/>
<rect x="332.08" y="594.09" width="129.58" height="11.8" fill="url(#pMod)"/>
<rect x="461.66" y="594.09" width="32.40" height="11.8" fill="#D0D0D0"/>
<text x="127.1" y="632.25" font-size="11.6" fill="#595959" text-anchor="end" textLength="19.8" lengthAdjust="spacingAndGlyphs">ADL</text>
<rect x="137.70" y="622.75" width="118.55" height="11.8" fill="url(#pWeak)"/>
<rect x="256.25" y="622.75" width="118.55" height="11.8" fill="url(#pLow)"/>
<rect x="374.80" y="622.75" width="59.45" height="11.8" fill="url(#pMod)"/>
<rect x="434.25" y="622.75" width="59.45" height="11.8" fill="#D0D0D0"/>
<text x="209.69" y="374.35" font-size="11" font-weight="bold" fill="#0D0D0D" textLength="33.06" lengthAdjust="spacingAndGlyphs">30.8%</text>
<text x="248.35" y="374.35" font-size="11" font-weight="bold" fill="#0D0D0D" textLength="26.58" lengthAdjust="spacingAndGlyphs">7.7%</text>
<text x="346.75" y="374.35" font-size="11" font-weight="bold" fill="#0D0D0D" textLength="33.06" lengthAdjust="spacingAndGlyphs">30.8%</text>
<text x="456.40" y="374.35" font-size="11" font-weight="bold" fill="#0D0D0D" textLength="33.06" lengthAdjust="spacingAndGlyphs">30.8%</text>
<text x="189.04" y="403.00" font-size="11" font-weight="bold" fill="#0D0D0D" textLength="33.06" lengthAdjust="spacingAndGlyphs">25.0%</text>
<text x="229.20" y="403.00" font-size="11" font-weight="bold" fill="#0D0D0D" textLength="32.42" lengthAdjust="spacingAndGlyphs">11.1%</text>
<text x="347.10" y="403.00" font-size="11" font-weight="bold" fill="#0D0D0D" textLength="33.06" lengthAdjust="spacingAndGlyphs">33.3%</text>
<text x="456.04" y="403.00" font-size="11" font-weight="bold" fill="#0D0D0D" textLength="33.06" lengthAdjust="spacingAndGlyphs">30.6%</text>
<text x="182.28" y="431.66" font-size="11" font-weight="bold" fill="#0D0D0D" textLength="33.06" lengthAdjust="spacingAndGlyphs">23.1%</text>
<text x="220.94" y="431.66" font-size="11" font-weight="bold" fill="#0D0D0D" textLength="26.58" lengthAdjust="spacingAndGlyphs">7.7%</text>
<text x="374.16" y="431.66" font-size="11" font-weight="bold" fill="#0D0D0D" textLength="33.06" lengthAdjust="spacingAndGlyphs">46.2%</text>
<text x="456.40" y="431.66" font-size="11" font-weight="bold" fill="#0D0D0D" textLength="33.06" lengthAdjust="spacingAndGlyphs">23.1%</text>
<text x="196.16" y="460.32" font-size="11" font-weight="bold" fill="#0D0D0D" textLength="33.06" lengthAdjust="spacingAndGlyphs">27.0%</text>
<text x="234.82" y="460.32" font-size="11" font-weight="bold" fill="#0D0D0D" textLength="33.06" lengthAdjust="spacingAndGlyphs">10.8%</text>
<text x="388.40" y="460.32" font-size="11" font-weight="bold" fill="#0D0D0D" textLength="33.06" lengthAdjust="spacingAndGlyphs">43.2%</text>
<text x="455.68" y="460.32" font-size="11" font-weight="bold" fill="#0D0D0D" textLength="33.06" lengthAdjust="spacingAndGlyphs">18.9%</text>
<text x="228.20" y="488.97" font-size="11" font-weight="bold" fill="#0D0D0D" textLength="33.06" lengthAdjust="spacingAndGlyphs">36.0%</text>
<text x="370.60" y="488.97" font-size="11" font-weight="bold" fill="#0D0D0D" textLength="33.06" lengthAdjust="spacingAndGlyphs">40.0%</text>
<text x="456.04" y="488.97" font-size="11" font-weight="bold" fill="#0D0D0D" textLength="33.06" lengthAdjust="spacingAndGlyphs">24.0%</text>
<text x="264.51" y="517.62" font-size="11" font-weight="bold" fill="#0D0D0D" textLength="33.06" lengthAdjust="spacingAndGlyphs">46.2%</text>
<text x="346.75" y="517.62" font-size="11" font-weight="bold" fill="#0D0D0D" textLength="33.06" lengthAdjust="spacingAndGlyphs">23.1%</text>
<text x="428.98" y="517.62" font-size="11" font-weight="bold" fill="#0D0D0D" textLength="33.06" lengthAdjust="spacingAndGlyphs">23.1%</text>
<text x="467.64" y="517.62" font-size="11" font-weight="bold" fill="#0D0D0D" textLength="26.58" lengthAdjust="spacingAndGlyphs">7.7%</text>
<text x="349.24" y="546.28" font-size="11" font-weight="bold" fill="#0D0D0D" textLength="33.06" lengthAdjust="spacingAndGlyphs">70.0%</text>
<text x="387.90" y="546.28" font-size="11" font-weight="bold" fill="#0D0D0D" textLength="33.06" lengthAdjust="spacingAndGlyphs">10.0%</text>
<text x="456.04" y="546.28" font-size="11" font-weight="bold" fill="#0D0D0D" textLength="33.06" lengthAdjust="spacingAndGlyphs">20.0%</text>
<text x="141.27" y="574.94" font-size="11" font-weight="bold" fill="#0D0D0D" textLength="32.42" lengthAdjust="spacingAndGlyphs">11.4%</text>
<text x="179.28" y="574.94" font-size="11" font-weight="bold" fill="#0D0D0D" textLength="26.58" lengthAdjust="spacingAndGlyphs">5.7%</text>
<text x="313.64" y="574.94" font-size="11" font-weight="bold" fill="#0D0D0D" textLength="33.06" lengthAdjust="spacingAndGlyphs">42.9%</text>
<text x="415.46" y="574.94" font-size="11" font-weight="bold" fill="#0D0D0D" textLength="33.06" lengthAdjust="spacingAndGlyphs">28.6%</text>
<text x="456.68" y="574.94" font-size="11" font-weight="bold" fill="#0D0D0D" textLength="32.42" lengthAdjust="spacingAndGlyphs">11.4%</text>
<text x="197.23" y="603.59" font-size="11" font-weight="bold" fill="#0D0D0D" textLength="33.06" lengthAdjust="spacingAndGlyphs">27.3%</text>
<text x="294.42" y="603.59" font-size="11" font-weight="bold" fill="#0D0D0D" textLength="33.06" lengthAdjust="spacingAndGlyphs">27.3%</text>
<text x="424.00" y="603.59" font-size="11" font-weight="bold" fill="#0D0D0D" textLength="33.06" lengthAdjust="spacingAndGlyphs">36.4%</text>
<text x="462.88" y="603.59" font-size="11" font-weight="bold" fill="#0D0D0D" textLength="26.58" lengthAdjust="spacingAndGlyphs">9.1%</text>
<text x="218.59" y="632.25" font-size="11" font-weight="bold" fill="#0D0D0D" textLength="33.06" lengthAdjust="spacingAndGlyphs">33.3%</text>
<text x="337.14" y="632.25" font-size="11" font-weight="bold" fill="#0D0D0D" textLength="33.06" lengthAdjust="spacingAndGlyphs">33.3%</text>
<text x="396.59" y="632.25" font-size="11" font-weight="bold" fill="#0D0D0D" textLength="33.06" lengthAdjust="spacingAndGlyphs">16.7%</text>
<text x="456.04" y="632.25" font-size="11" font-weight="bold" fill="#0D0D0D" textLength="33.06" lengthAdjust="spacingAndGlyphs">16.7%</text>
<text x="137.70" y="660" font-size="9.5" fill="#595959" text-anchor="middle">0.0%</text>
<text x="173.30" y="660" font-size="9.5" fill="#595959" text-anchor="middle">10.0%</text>
<text x="208.90" y="660" font-size="9.5" fill="#595959" text-anchor="middle">20.0%</text>
<text x="244.50" y="660" font-size="9.5" fill="#595959" text-anchor="middle">30.0%</text>
<text x="280.10" y="660" font-size="9.5" fill="#595959" text-anchor="middle">40.0%</text>
<text x="315.70" y="660" font-size="9.5" fill="#595959" text-anchor="middle">50.0%</text>
<text x="351.30" y="660" font-size="9.5" fill="#595959" text-anchor="middle">60.0%</text>
<text x="386.90" y="660" font-size="9.5" fill="#595959" text-anchor="middle">70.0%</text>
<text x="422.50" y="660" font-size="9.5" fill="#595959" text-anchor="middle">80.0%</text>
<text x="458.10" y="660" font-size="9.5" fill="#595959" text-anchor="middle">90.0%</text>
<text x="493.70" y="660" font-size="9.5" fill="#595959" text-anchor="middle">100.0%</text>
<rect x="155.7" y="674.9" width="7.4" height="7.5" fill="url(#gI9)"/>
<text x="167.0" y="682.3" font-size="12" fill="#595959" textLength="67.6" lengthAdjust="spacingAndGlyphs">Insignificant</text>
<rect x="252.0" y="674.9" width="7.4" height="7.5" fill="url(#pWeak)"/>
<text x="263.2" y="682.3" font-size="12" fill="#595959" textLength="31.4" lengthAdjust="spacingAndGlyphs">Weak</text>
<rect x="312.4" y="674.9" width="7.4" height="7.5" fill="url(#pLow)"/>
<text x="323.6" y="682.3" font-size="12" fill="#595959" textLength="23.0" lengthAdjust="spacingAndGlyphs">Low</text>
<rect x="363.6" y="674.9" width="7.4" height="7.5" fill="url(#pMod)"/>
<text x="375.4" y="682.3" font-size="12" fill="#595959" textLength="52.8" lengthAdjust="spacingAndGlyphs">Moderate</text>
<rect x="446.0" y="674.9" width="7.4" height="7.5" fill="#D0D0D0"/>
<text x="456.8" y="682.3" font-size="12" fill="#595959" textLength="25.6" lengthAdjust="spacingAndGlyphs">High</text>
</svg></body></html>
